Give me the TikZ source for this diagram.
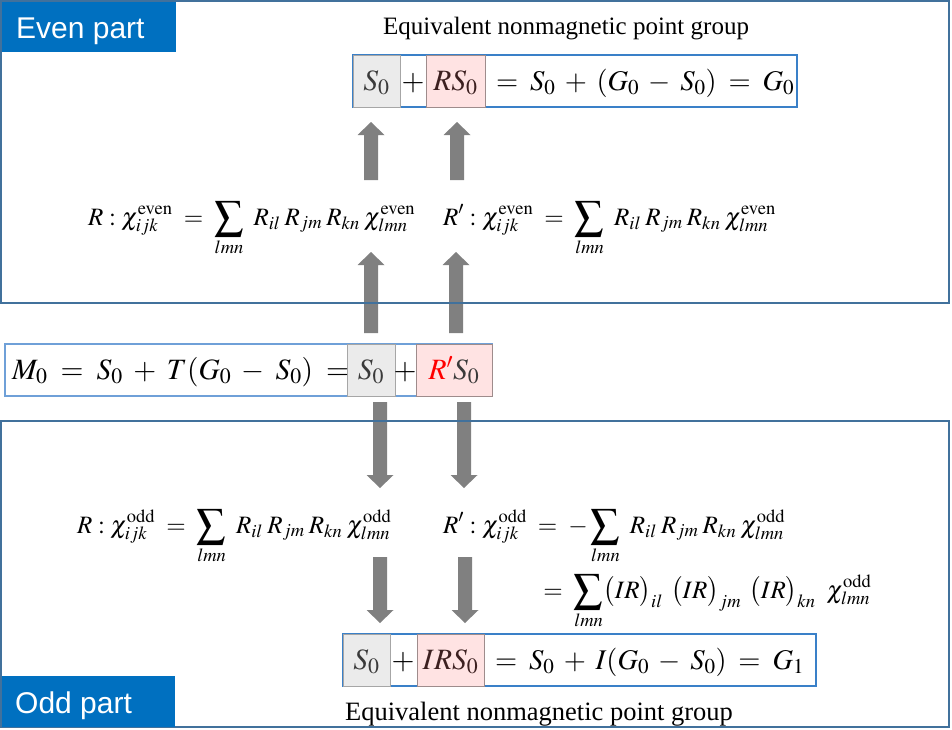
\documentclass[tikz,border=0pt]{standalone}
\usepackage{graphicx}
\usepackage{mathptmx}
\usepackage[no-math]{fontspec}
\setmainfont{Liberation Serif}
\newfontfamily\labelfont{Liberation Sans}
\definecolor{framecol}{HTML}{41719C}
\definecolor{eqblue}{HTML}{3A80C8}
\definecolor{eqlight}{HTML}{6FA0D8}
\definecolor{labelblue}{HTML}{0070C0}
\definecolor{arrowgray}{HTML}{808080}
\definecolor{greyfill}{HTML}{EBEBEB}
\definecolor{greyline}{HTML}{A6A6A6}
\definecolor{pinkfill}{HTML}{FFE3E3}
\definecolor{pinkline}{HTML}{9E8C8C}
\definecolor{greytext}{HTML}{3A3A3A}
\definecolor{pinktext}{HTML}{3C2020}
\newcommand\blockarr[3]{% x, tail y, tip y
  \pgfmathsetmacro\neckY{#3+13*sign(#2-#3)}
  \fill[arrowgray] ({#1-7},#2) -- ({#1-7},\neckY) -- ({#1-13.5},\neckY) -- (#1,#3)
    -- ({#1+13.5},\neckY) -- ({#1+7},\neckY) -- ({#1+7},#2) -- cycle;}
\newcommand\wide{\thickmuskip=8mu\medmuskip=6.5mu}
\newcommand\widish{\thickmuskip=7.5mu\medmuskip=6mu}
\newcommand\cln{\mskip4mu{:}\mskip4mu}
\newcommand\gapS{\mskip5mu}
\newcommand\gapT{\mskip3mu}
\newcommand\Sum{\mathop{\vcenter{\hbox{\scalebox{1.15}{$\displaystyle\sum$}}}}\limits}
\tikzset{
  frame/.style={draw=framecol, line width=1.5pt, inner sep=0pt},
  eqbox/.style={draw=eqblue, line width=1.3pt, inner sep=0pt, minimum height=52pt},
  eqboxlight/.style={draw=eqlight, line width=1.3pt, inner sep=0pt, minimum height=52pt},
  greybox/.style={draw=greyline, fill=greyfill, line width=1pt, inner sep=0pt, minimum height=52pt},
  pinkbox/.style={draw=pinkline, fill=pinkfill, line width=1pt, inner sep=0pt, minimum height=52pt},
  labelbox/.style={fill=labelblue, inner sep=0pt},
  labeltext/.style={inner sep=0pt, text=white, font=\labelfont\fontsize{30}{34}\selectfont},
  eqtext/.style={inner sep=0pt, font=\fontsize{29.5}{34}\selectfont\wide},
  eqrest/.style={inner sep=0pt, font=\fontsize{28.5}{33}\selectfont\widish},
  chitext/.style={inner sep=0pt, font=\fontsize{25}{30}\selectfont\wide},
}
\begin{document}
\begin{tikzpicture}[x=1pt,y=-1pt]
\useasboundingbox (0,0) rectangle (952,729);
% arrows
\blockarr{371}{180}{122}
\blockarr{457}{180}{122}
\blockarr{371}{333}{252}
\blockarr{456}{333}{252}
\blockarr{380}{402}{488}
\blockarr{464}{402}{488}
\blockarr{380}{557}{623}
\blockarr{465}{557}{623}
% frames
\node[frame, minimum width=948pt, minimum height=302pt] (evenframe) at (475,152) {};
\node[frame, minimum width=948pt, minimum height=306pt] (oddframe) at (475,574) {};
% labels
\node[labelbox, minimum width=174pt, minimum height=50pt] (evenlab) at (89,27) {};
\node[labeltext, anchor=base west] (eventext) at (16,38) {Even part};
\node[labelbox, minimum width=173pt, minimum height=51pt] (oddlab) at (88.5,701.5) {};
\node[labeltext, anchor=base west] (oddtext) at (15,713) {Odd part};
% captions
\node[inner sep=0pt, font=\fontsize{25}{29}\selectfont, anchor=base] (captop) at (566,34) {Equivalent nonmagnetic point group};
\node[inner sep=0pt, font=\fontsize{26.5}{30}\selectfont, anchor=base] (capbot) at (539,720) {Equivalent nonmagnetic point group};
% top equation
\node[eqbox, minimum width=444pt] (topbox) at (575,81) {};
\node[greybox, minimum width=47pt] (ts0box) at (376.5,81) {};
\node[pinkbox, minimum width=59pt] (trs0box) at (455.5,81) {};
\node[eqtext, anchor=base, text=greytext] (ts0) at (376.5,90) {$S_0$};
\node[eqtext, anchor=base] (tplus) at (413,90) {$+$};
\node[eqtext, anchor=base, text=pinktext] (trs0) at (455.5,90) {$RS_0$};
\node[eqrest, anchor=base west] (trest) at (484,90) {${}=S_0+(G_0-S_0)=G_0$};
% middle equation
\node[eqboxlight, minimum width=487pt] (midbox) at (248.5,370) {};
\node[greybox, minimum width=48pt] (ms0box) at (371,370) {};
\node[pinkbox, minimum width=76pt] (mrs0box) at (454,370) {};
\node[eqtext, anchor=base west] (mleft) at (12,379) {$M_0=S_0+T(G_0-S_0)={}$};
\node[eqtext, anchor=base, text=greytext] (ms0) at (371,379) {$S_0$};
\node[eqtext, anchor=base] (mplus) at (405,379) {$+$};
\node[eqtext, anchor=base] (mrs0) at (454,379) {$\textcolor{red}{R'}\textcolor{greytext}{S_0}$};
% bottom equation
\node[eqbox, minimum width=473pt] (botbox) at (579.5,660) {};
\node[greybox, minimum width=47pt] (bs0box) at (366.5,660) {};
\node[pinkbox, minimum width=67pt] (birs0box) at (450.5,660) {};
\node[eqtext, anchor=base, text=greytext] (bs0) at (366.5,669) {$S_0$};
\node[eqtext, anchor=base] (bplus) at (403,669) {$+$};
\node[eqtext, anchor=base, text=pinktext] (birs0) at (450.5,669) {$IRS_0$};
\node[eqrest, anchor=base west] (brest) at (483,669) {${}=S_0+I(G_0-S_0)=G_1$};
% even chi equations
\node[chitext, anchor=base west] (evenR) at (88,225)
  {$\displaystyle R\cln\chi_{ijk}^{\mathrm{even}}=\Sum_{lmn}\gapS R_{il}\gapT R_{jm}\gapT R_{kn}\gapT \chi_{lmn}^{\mathrm{even}}$};
\node[chitext, anchor=base west] (evenRp) at (443,225)
  {$\displaystyle R'\cln\chi_{ijk}^{\mathrm{even}}=\Sum_{lmn}\gapS R_{il}\gapT R_{jm}\gapT R_{kn}\gapT \chi_{lmn}^{\mathrm{even}}$};
% odd chi equations
\node[chitext, anchor=base west] (oddR) at (77,533)
  {$\displaystyle R\cln\chi_{ijk}^{\mathrm{odd}}=\Sum_{lmn}\gapS R_{il}\gapT R_{jm}\gapT R_{kn}\gapT \chi_{lmn}^{\mathrm{odd}}$};
\node[chitext, anchor=base west] (oddRp) at (443,533)
  {$\displaystyle R'\cln\chi_{ijk}^{\mathrm{odd}}=-\Sum_{lmn}\gapS R_{il}\gapT R_{jm}\gapT R_{kn}\gapT \chi_{lmn}^{\mathrm{odd}}$};
\node[chitext, anchor=base west] (oddRp2) at (532,598)
  {$\displaystyle {}=\Sum_{lmn}\bigl(IR\bigr)_{il}\mskip6mu\bigl(IR\bigr)_{jm}\mskip6mu\bigl(IR\bigr)_{kn}\mskip8mu\chi_{lmn}^{\mathrm{odd}}$};
\end{tikzpicture}
\end{document}
